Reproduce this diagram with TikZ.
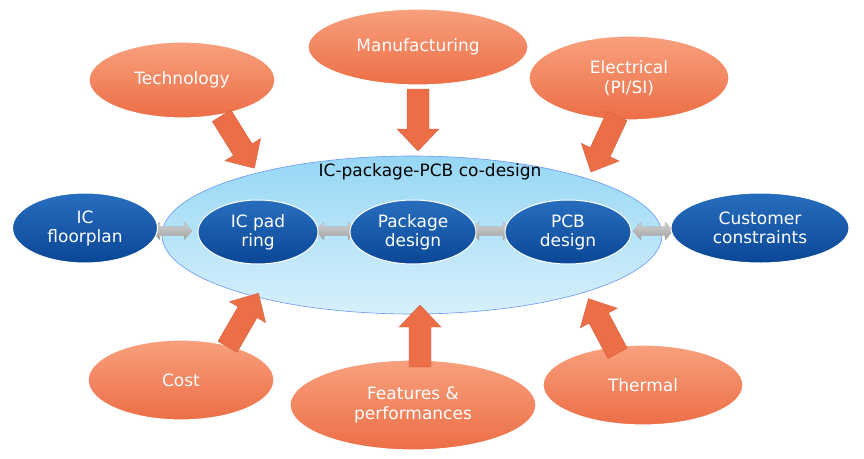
\documentclass[tikz,border=0pt]{standalone}
\usepackage{fontspec}
\setmainfont{DejaVu Sans}
\usetikzlibrary{shapes.geometric}
\definecolor{org}{RGB}{236,110,70}
\definecolor{orgl}{RGB}{248,160,125}
\definecolor{dblue}{RGB}{10,70,150}
\definecolor{dbluel}{RGB}{40,110,190}
\definecolor{lblue}{RGB}{150,215,245}
\definecolor{lbluel}{RGB}{215,240,252}
\newcommand{\barr}[4]{% name, x, y, angle
  \begin{scope}[shift={(#2,#3)},rotate=#4]
    \fill[org,draw=org!85!black,line width=0.3pt] (-31,-11) -- (9,-11) -- (9,-21) -- (31,0) -- (9,21) -- (9,11) -- (-31,11) -- cycle;
    \coordinate (#1) at (0,0);
  \end{scope}}
\newcommand{\garr}[3]{% name, x, y
  \begin{scope}[shift={(#2,#3)}]
    \shade[top color=gray!35,bottom color=gray!75,draw=gray!70,line width=0.3pt] (-20,0) -- (-12,-9) -- (-12,-4.5) -- (12,-4.5) -- (12,-9) -- (20,0) -- (12,9) -- (12,4.5) -- (-12,4.5) -- (-12,9) -- cycle;
    \coordinate (#1) at (0,0);
  \end{scope}}
\begin{document}
\begin{tikzpicture}[x=1pt,y=-1pt,
  oval/.style={ellipse,draw=white,line width=1.2pt,top color=orgl,bottom color=org,text=white,font=\fontsize{17}{20}\selectfont,align=center,inner sep=0pt},
  blue/.style={ellipse,draw=white,line width=1pt,top color=dbluel,bottom color=dblue,text=white,font=\fontsize{17}{19}\selectfont,align=center,inner sep=0pt}]
\useasboundingbox (0,0) rectangle (864,458);
\node[ellipse,draw=lblue!70!blue,line width=0.6pt,top color=lblue,bottom color=lbluel,minimum width=500pt,minimum height=158pt] (big) at (412,235) {};
\node[font=\fontsize{17}{20}\selectfont] (title) at (430,172) {IC-package-PCB co-design};
\garr{g1}{172}{231}
\garr{g2}{336}{231}
\garr{g3}{491}{231}
\garr{g4}{653}{231}
\node[blue,minimum width=145pt,minimum height=70pt] (icf) at (85,228) {IC\\floorplan};
\node[blue,minimum width=120pt,minimum height=64pt] (pad) at (258,232) {IC pad\\ring};
\node[blue,minimum width=126pt,minimum height=64pt] (pkg) at (413,232) {Package\\design};
\node[blue,minimum width=126pt,minimum height=64pt] (pcb) at (568,232) {PCB\\design};
\node[blue,minimum width=178pt,minimum height=70pt] (cus) at (760,228) {Customer\\constraints};
\node[oval,minimum width=186pt,minimum height=76pt] (tech) at (182,80) {Technology};
\node[oval,minimum width=220pt,minimum height=76pt] (man) at (418,47) {Manufacturing};
\node[oval,minimum width=200pt,minimum height=84pt] (ele) at (629,78) {Electrical\\(PI/SI)};
\node[oval,minimum width=186pt,minimum height=80pt] (cost) at (181,380) {Cost};
\node[oval,minimum width=246pt,minimum height=90pt] (feat) at (413,405) {Features \&\\performances};
\node[oval,minimum width=200pt,minimum height=80pt] (therm) at (643,385) {Thermal};
\barr{a1}{238}{142}{-58}
\barr{a2}{418}{120}{-90}
\barr{a3}{604}{144}{-115}
\barr{a4}{243}{320}{60}
\barr{a5}{420}{336}{90}
\barr{a6}{603}{326}{118}
\end{tikzpicture}
\end{document}
